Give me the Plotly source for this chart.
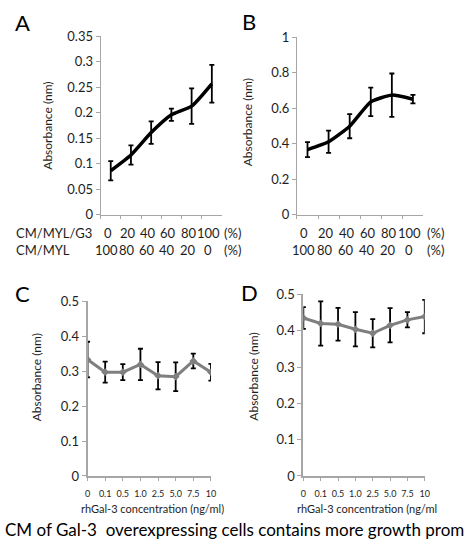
import plotly.graph_objects as go

W, H = 474, 550

# ---- data ----
cats_ab = ["0", "20", "40", "60", "80", "100"]
row1_ab = ["0", "20", "40", "60", "80", "100"]
row2_ab = ["100", "80", "60", "40", "20", "0"]
a_vals = [0.086, 0.117, 0.161, 0.196, 0.213, 0.257]
a_err = [0.019, 0.019, 0.022, 0.012, 0.035, 0.037]
b_vals = [0.366, 0.410, 0.498, 0.635, 0.673, 0.650]
b_err = [0.042, 0.063, 0.068, 0.080, 0.122, 0.024]

cats_cd = ["0", "0.1", "0.5", "1.0", "2.5", "5.0", "7.5", "10"]
c_vals = [0.333, 0.297, 0.297, 0.319, 0.287, 0.284, 0.329, 0.297]
c_err = [0.051, 0.030, 0.023, 0.045, 0.039, 0.041, 0.021, 0.024]
d_vals = [0.435, 0.420, 0.418, 0.404, 0.393, 0.415, 0.430, 0.439]
d_err = [0.030, 0.061, 0.045, 0.047, 0.039, 0.047, 0.021, 0.046]

FONT = "Lato"
TXT = "#1e1e1e"
AX = "#a6a6a6"

def px_x(p):
    return p / W

def px_y(p):
    return 1 - p / H

fig = go.Figure()

# A
fig.add_trace(go.Scatter(
    x=cats_ab, y=a_vals, mode="lines", xaxis="x", yaxis="y",
    line=dict(color="black", width=3.5, shape="spline", smoothing=0.5),
    error_y=dict(type="data", array=a_err, color="black", thickness=1.8, width=2.5),
    showlegend=False))
# B
fig.add_trace(go.Scatter(
    x=cats_ab, y=b_vals, mode="lines", xaxis="x2", yaxis="y2",
    line=dict(color="black", width=3.5, shape="spline", smoothing=0.5),
    error_y=dict(type="data", array=b_err, color="black", thickness=1.8, width=2.5),
    showlegend=False))
# C
fig.add_trace(go.Scatter(
    x=cats_cd, y=c_vals, mode="lines+markers", xaxis="x3", yaxis="y3",
    line=dict(color="#7f7f7f", width=3),
    marker=dict(symbol="diamond", size=6, color="#7f7f7f"),
    error_y=dict(type="data", array=c_err, color="black", thickness=1.8, width=2.5),
    showlegend=False))
# D
fig.add_trace(go.Scatter(
    x=cats_cd, y=d_vals, mode="lines+markers", xaxis="x4", yaxis="y4",
    line=dict(color="#7f7f7f", width=3),
    marker=dict(symbol="diamond", size=6, color="#7f7f7f"),
    error_y=dict(type="data", array=d_err, color="black", thickness=1.8, width=2.5),
    showlegend=False))

def xax(dom, anchor, rng, tickson, show_labels, lw):
    return dict(domain=dom, anchor=anchor, type="category", range=rng,
                showgrid=False, zeroline=False, showline=True, linecolor=AX,
                linewidth=lw, ticks="outside", ticklen=3, tickcolor=AX,
                tickwidth=1, tickson=tickson, showticklabels=show_labels,
                ticklabelstandoff=5,
                tickfont=dict(family=FONT, size=9, color=TXT), fixedrange=True)

def yax(dom, anchor, rng, dtick, lw):
    return dict(domain=dom, anchor=anchor, range=rng, dtick=dtick, tick0=0,
                showgrid=False, zeroline=False, showline=True, linecolor=AX,
                linewidth=lw, ticks="outside", ticklen=4, tickcolor=AX,
                tickwidth=1, tickfont=dict(family=FONT, size=13, color=TXT),
                fixedrange=True)

fig.update_layout(
    width=W, height=H, margin=dict(l=0, r=0, t=0, b=0),
    paper_bgcolor="white", plot_bgcolor="white",
    xaxis=xax([px_x(99.3), px_x(222.7)], "y", [-0.5, 5.5], "boundaries", False, 1),
    yaxis=yax([px_y(212.7), px_y(29.3)], "x", [0, 0.35], 0.05, 1),
    xaxis2=xax([px_x(299), px_x(427.7)], "y2", [-0.5, 5.5], "boundaries", False, 1),
    yaxis2=yax([px_y(212.7), px_y(30)], "x2", [0, 1], 0.2, 1),
    xaxis3=xax([px_x(86), px_x(211.5)], "y3", [0, 7], "labels", True, 2),
    yaxis3=yax([px_y(482), px_y(302)], "x3", [0, 0.5], 0.1, 2),
    xaxis4=xax([px_x(305.5), px_x(429)], "y4", [0, 7], "labels", True, 2),
    yaxis4=yax([px_y(482), px_y(295)], "x4", [0, 0.5], 0.1, 2),
)

ann = []
# panel letters
for letter, x, y in [("A", 20, 15), ("B", 250, 14), ("C", 20, 294), ("D", 251, 293)]:
    ann.append(dict(text=letter, xref="paper", yref="paper", x=px_x(x), y=px_y(y),
                    xanchor="center", yanchor="middle", showarrow=False,
                    font=dict(family=FONT, size=22, color="black")))
# y titles
for x, y in [(45, 121), (249, 118), (35, 380), (255, 380)]:
    ann.append(dict(text="Absorbance (nm)", xref="paper", yref="paper", x=px_x(x), y=px_y(y),
                    xanchor="center", yanchor="middle", textangle=-90, showarrow=False,
                    font=dict(family=FONT, size=12, color=TXT)))
# row labels under A
ann.append(dict(text="CM/MYL/G3", xref="paper", yref="paper", x=px_x(11), y=px_y(232),
                xanchor="left", yanchor="middle", showarrow=False,
                font=dict(family=FONT, size=13, color=TXT)))
ann.append(dict(text="CM/MYL", xref="paper", yref="paper", x=px_x(11), y=px_y(249),
                xanchor="left", yanchor="middle", showarrow=False,
                font=dict(family=FONT, size=13, color=TXT)))
# value rows under A and B
for xr, pct_x in [("x", 233), ("x2", 440)]:
    for i in range(len(cats_ab)):
        ann.append(dict(text=row1_ab[i], xref=xr, yref="paper", x=i, y=px_y(232),
                        xanchor="center", yanchor="middle", showarrow=False, xshift=-3,
                        font=dict(family=FONT, size=13, color=TXT)))
        ann.append(dict(text=row2_ab[i], xref=xr, yref="paper", x=i, y=px_y(249),
                        xanchor="center", yanchor="middle", showarrow=False, xshift=-4,
                        font=dict(family=FONT, size=13, color=TXT)))
    for yy in (232, 249):
        ann.append(dict(text="(%)", xref="paper", yref="paper", x=px_x(pct_x), y=px_y(yy),
                        xanchor="center", yanchor="middle", showarrow=False,
                        font=dict(family=FONT, size=13, color=TXT)))
# x titles under C and D
ann.append(dict(text="rhGal-3 concentration (ng/ml)", xref="paper", yref="paper",
                x=px_x(152), y=px_y(515), xanchor="center", yanchor="middle", showarrow=False,
                font=dict(family=FONT, size=11, color=TXT)))
ann.append(dict(text="rhGal-3 concentration (ng/ml", xref="paper", yref="paper",
                x=px_x(370), y=px_y(515), xanchor="center", yanchor="middle", showarrow=False,
                font=dict(family=FONT, size=11, color=TXT)))
# caption line at the bottom
ann.append(dict(text="CM of Gal-3  overexpressing cells contains more growth prom",
                xref="paper", yref="paper", x=px_x(0), y=0,
                xanchor="left", yanchor="bottom", showarrow=False,
                font=dict(family=FONT, size=17, color="black")))

fig.update_layout(annotations=ann)
fig.write_html("out.html")
